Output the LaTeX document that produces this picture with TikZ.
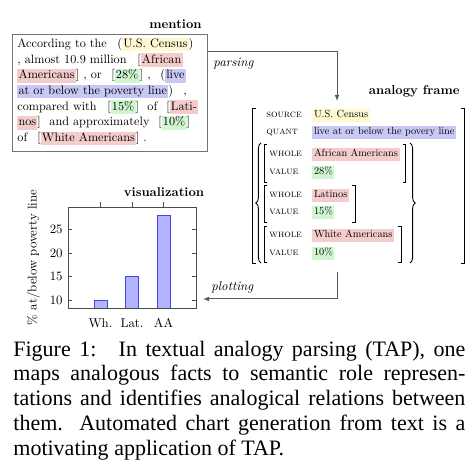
\documentclass[tikz,border=0pt]{standalone}
\usepackage{fontspec}
\setmainfont{lmroman10}[Extension=.otf,UprightFont=*-regular,BoldFont=*-bold,ItalicFont=*-italic,BoldItalicFont=*-bolditalic,SmallCapsFont=lmromancaps10-regular]
\newfontfamily\capfont{Liberation Serif}
\usetikzlibrary{decorations.pathreplacing,arrows.meta,calc}
\definecolor{hlY}{RGB}{255,249,210}
\definecolor{hlR}{RGB}{244,204,204}
\definecolor{hlG}{RGB}{208,245,208}
\definecolor{hlB}{RGB}{200,200,245}
\definecolor{barfill}{RGB}{179,179,255}
\definecolor{bardraw}{RGB}{70,70,220}
\newcommand\hlm[2]{{\setlength{\fboxsep}{0.6pt}\colorbox{#1}{\vphantom{Ay}#2}}}
\newcommand\hlf[2]{{\setlength{\fboxsep}{0.8pt}\colorbox{#1}{\vphantom{Ay}#2}}}
\begin{document}
\begin{tikzpicture}[x=0.5pt,y=-0.5pt,
  mtxt/.style={inner sep=0,anchor=base west,font=\fontsize{6.1}{7.3}\selectfont},
  ftxt/.style={inner sep=0,anchor=base west,font=\fontsize{5.15}{6.2}\selectfont},
  ctxt/.style={inner sep=0,font=\fontsize{6.4}{7.6}\selectfont},
  itl/.style={inner sep=0,anchor=west,font=\fontsize{6.4}{7.6}\selectfont\itshape},
  ttl/.style={inner sep=0,font=\fontsize{6.4}{7.6}\selectfont\bfseries},
  conn/.style={draw=black!65,line width=0.5pt,-{Latex[length=3pt,width=2.4pt]}},
  brk/.style={line width=0.45pt},
  capline/.style={inner sep=0,anchor=base west,font=\capfont\fontsize{11}{12.25}\selectfont}]
\useasboundingbox (0,0) rectangle (474,474);

% ---------- mention ----------
\node (mention) [draw=black!55,line width=0.5pt,inner sep=0,minimum width=97.5pt,minimum height=58.5pt,anchor=north west] at (12,34) {};
\node (mtitle) [ttl,anchor=base east] at (202,29) {mention};
\node (m1a) [mtxt] at (17,47.5) {According to the};
\node (m1b) [mtxt] at (117,47.5) {(\hlm{hlY}{U.S. Census})};
\node (m2a) [mtxt] at (17,63.2) {, almost 10.9 million};
\node (m2b) [mtxt] at (137,63.2) {[\hlm{hlR}{African}};
\node (m3a) [mtxt] at (17,78.9) {\hlm{hlR}{Americans}]};
\node (m3b) [mtxt] at (83,78.9) {, or};
\node (m3c) [mtxt] at (111,78.9) {[\hlm{hlG}{28\%}]};
\node (m3d) [mtxt] at (147,78.9) {,};
\node (m3e) [mtxt] at (160,78.9) {(\hlm{hlB}{live}};
\node (m4a) [mtxt] at (17,94.6) {\hlm{hlB}{at or below the poverty line})};
\node (m4b) [mtxt] at (183,94.6) {,};
\node (m5a) [mtxt] at (17,110.3) {compared with};
\node (m5b) [mtxt] at (107,110.3) {[\hlm{hlG}{15\%}]};
\node (m5c) [mtxt] at (147,110.3) {of};
\node (m5d) [mtxt] at (166,110.3) {[\hlm{hlR}{Lati-}};
\node (m6a) [mtxt] at (17,126) {\hlm{hlR}{nos}]};
\node (m6b) [mtxt] at (49,126) {and approximately};
\node (m6c) [mtxt] at (158,126) {[\hlm{hlG}{10\%}]};
\node (m7a) [mtxt] at (17,141.7) {of};
\node (m7b) [mtxt] at (37,141.7) {[\hlm{hlR}{White Americans}]};
\node (m7c) [mtxt] at (143,141.7) {.};

% ---------- analogy frame ----------
\node (frame) [inner sep=0,minimum width=105.65pt,minimum height=77.5pt,anchor=north west] at (252.7,108) {};
\node (ftitle) [ttl,anchor=base east] at (460,95) {analogy frame};
\draw[brk] (256.2,108) -- (252.7,108) -- (252.7,263) -- (256.2,263);
\draw[brk] (460.5,108) -- (464,108) -- (464,263) -- (460.5,263);
\draw[brk,decorate,decoration={brace,amplitude=2.6pt,aspect=0.5}] (261,263) -- (261,143);
\draw[brk,decorate,decoration={brace,amplitude=2.6pt,aspect=0.5}] (410,143) -- (410,263);
\draw[brk] (267,144) -- (264,144) -- (264,182) -- (267,182);
\draw[brk] (402.7,144) -- (405.7,144) -- (405.7,182) -- (402.7,182);
\draw[brk] (267,185) -- (264,185) -- (264,222) -- (267,222);
\draw[brk] (352,185) -- (355,185) -- (355,222) -- (352,222);
\draw[brk] (267,226) -- (264,226) -- (264,262) -- (267,262);
\draw[brk] (398,226) -- (401,226) -- (401,262) -- (398,262);
\node (fs) [ftxt] at (266,118) {\textsc{source}};
\node (fsv) [ftxt] at (312,118) {\hlf{hlY}{U.S. Census}};
\node (fq) [ftxt] at (266,135) {\textsc{quant}};
\node (fqv) [ftxt] at (312,135) {\hlf{hlB}{live at or below the povery line}};
\node (fw1) [ftxt] at (269,157) {\textsc{whole}};
\node (fw1v) [ftxt] at (312,157) {\hlf{hlR}{African Americans}};
\node (fv1) [ftxt] at (269,175) {\textsc{value}};
\node (fv1v) [ftxt] at (312,175) {\hlf{hlG}{28\%}};
\node (fw2) [ftxt] at (269,198) {\textsc{whole}};
\node (fw2v) [ftxt] at (312,198) {\hlf{hlR}{Latinos}};
\node (fv2) [ftxt] at (269,215) {\textsc{value}};
\node (fv2v) [ftxt] at (312,215) {\hlf{hlG}{15\%}};
\node (fw3) [ftxt] at (269,238) {\textsc{whole}};
\node (fw3v) [ftxt] at (312,238) {\hlf{hlR}{White Americans}};
\node (fv3) [ftxt] at (269,256) {\textsc{value}};
\node (fv3v) [ftxt] at (312,256) {\hlf{hlG}{10\%}};

% ---------- visualization ----------
\fill[barfill] (94,300) rectangle (107,308);
\fill[barfill] (125.5,276.5) rectangle (138.5,308);
\fill[barfill] (157,215.4) rectangle (170,308);
\draw[bardraw,line width=0.45pt] (94,308) -- (94,300) -- (107,300) -- (107,308);
\draw[bardraw,line width=0.45pt] (125.5,308) -- (125.5,276.5) -- (138.5,276.5) -- (138.5,308);
\draw[bardraw,line width=0.45pt] (157,308) -- (157,215.4) -- (170,215.4) -- (170,308);
\node (chart) [draw=black!70,line width=0.4pt,inner sep=0,minimum width=64pt,minimum height=50.5pt,anchor=north west] at (68,207) {};
\node (vtitle) [ttl,anchor=base] at (164,197) {visualization};
\foreach \yy/\lab in {300/10,276.5/15,253/20,229.5/25}{
  \draw[black!70,line width=0.4pt] (68,\yy) -- (72,\yy);
  \draw[black!70,line width=0.4pt] (192,\yy) -- (196,\yy);
  \node (yt\lab) [ctxt,anchor=east] at (63,\yy) {\lab};
}
\foreach \xx in {100.5,132,163.5}{
  \draw[black!70,line width=0.4pt] (\xx,207) -- (\xx,202);
}
\node (xwh) [ctxt,anchor=base] at (100.5,328) {Wh.};
\node (xlat) [ctxt,anchor=base] at (132,328) {Lat.};
\node (xaa) [ctxt,anchor=base] at (163.5,328) {AA};
\node (ylab) [ctxt,rotate=90] at (33.5,257.5) {\% at/below poverty line};

% ---------- connectors ----------
\coordinate (pin) at (337,101);
\draw[conn] ($(mention.north east)+(0,18)$) -| (pin);
\node (lparse) [itl] at (213,64) {parsing};
\coordinate (pout) at (337,272);
\coordinate (pend) at (203,299);
\draw[conn] (pout) |- (pend);
\node (lplot) [itl] at (211,287) {plotting};

% ---------- caption ----------
\node (c1) [capline] at (13,356) {\makebox[226pt][s]{Figure 1:\hspace{4.5pt} In textual analogy parsing (TAP), one}};
\node (c2) [capline] at (13,380.75) {\makebox[226pt][s]{maps analogous facts to semantic role represen-}};
\node (c3) [capline] at (13,405.5) {\makebox[226pt][s]{tations and identifies analogical relations between}};
\node (c4) [capline] at (13,430.25) {\makebox[226pt][s]{them. Automated chart generation from text is a}};
\node (c5) [capline] at (13,455) {motivating application of TAP.};
\end{tikzpicture}
\end{document}
